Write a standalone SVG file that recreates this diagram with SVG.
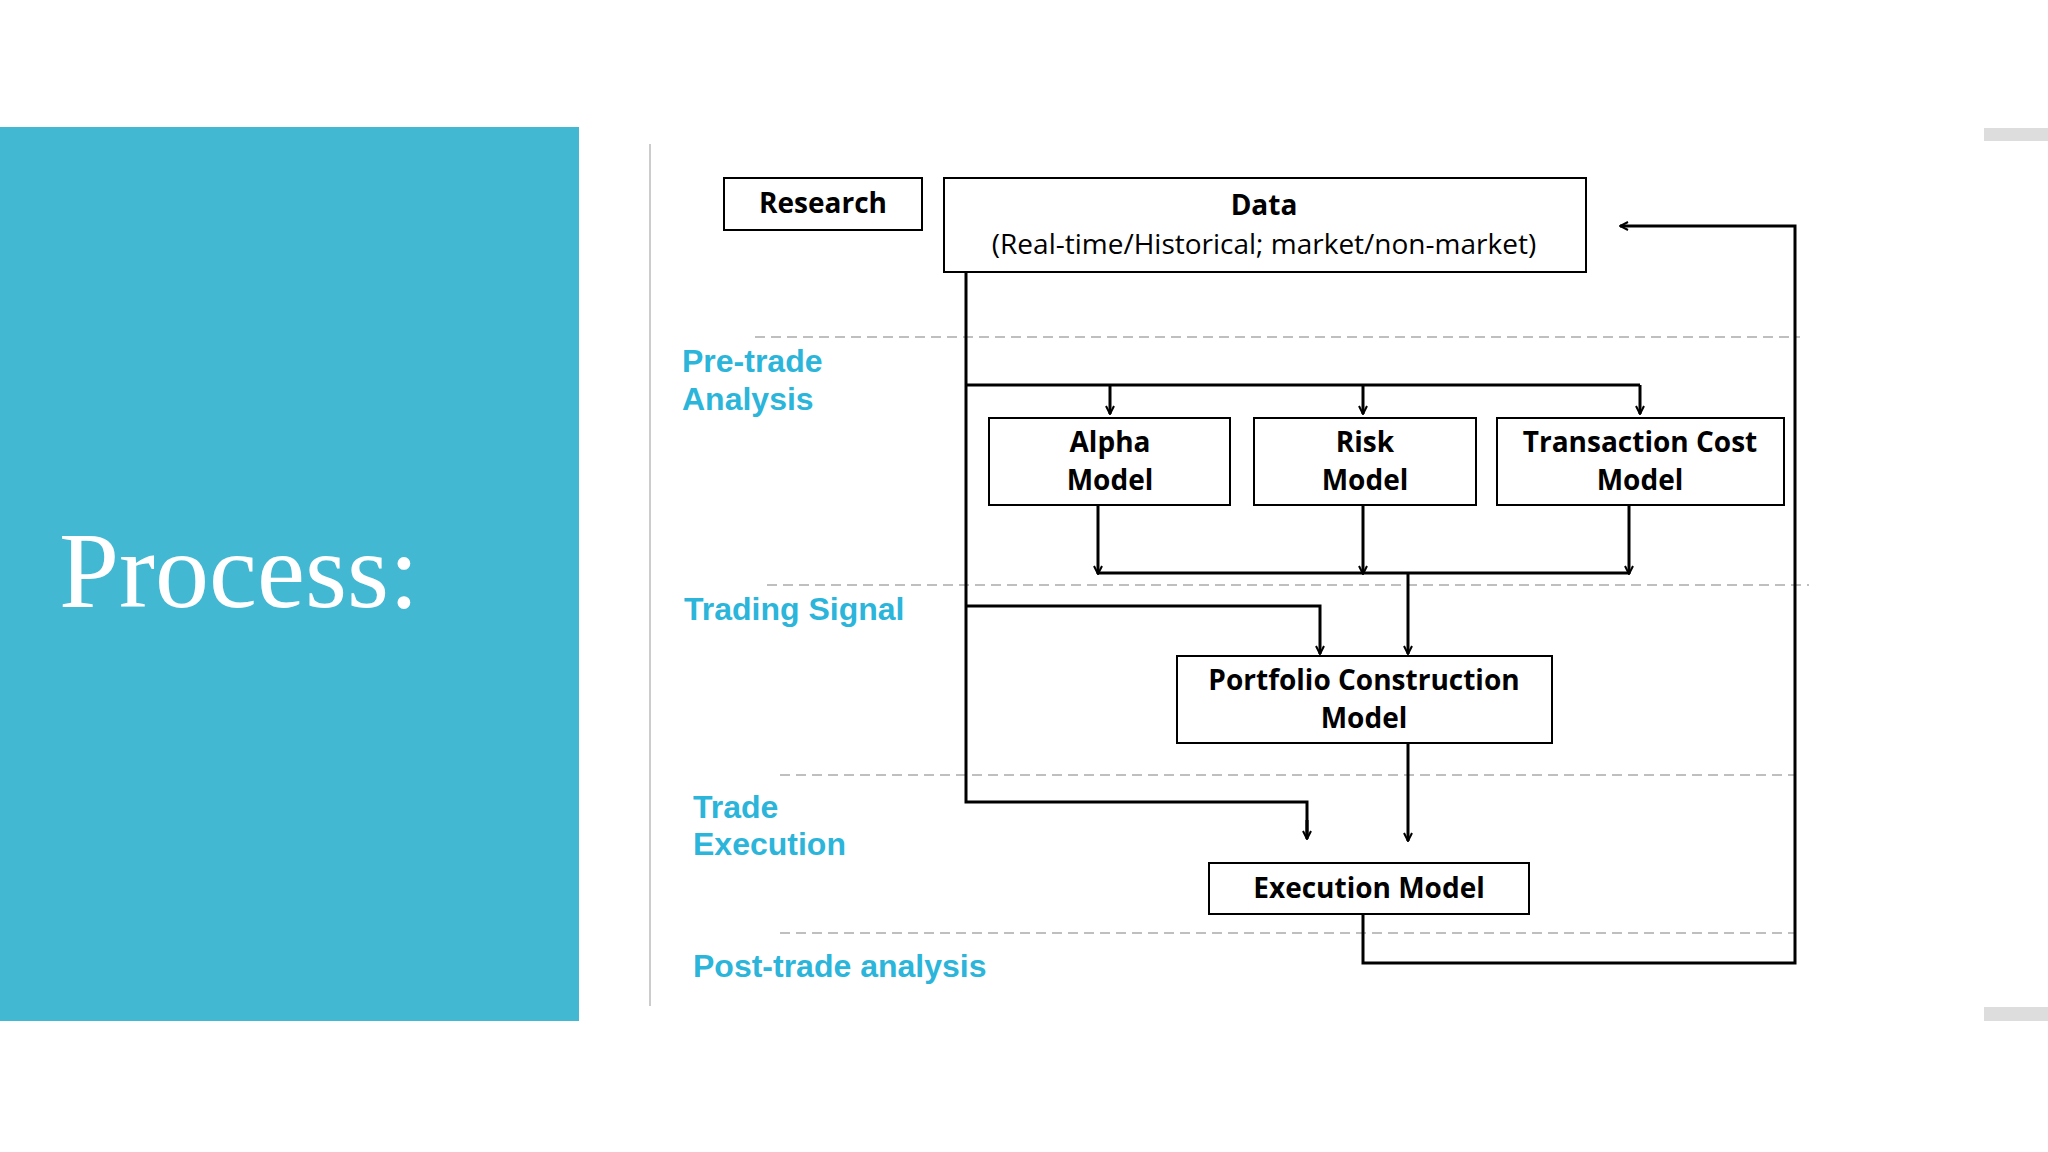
<svg xmlns="http://www.w3.org/2000/svg" width="2048" height="1152" viewBox="0 0 2048 1152">
<defs>
<marker id="ah" markerWidth="10" markerHeight="10" refX="9" refY="5" orient="auto" markerUnits="userSpaceOnUse"><path d="M1,1 L9,5 L1,9" fill="none" stroke="#000" stroke-width="2"/></marker>
<style>
.box{fill:#fff;stroke:#000;stroke-width:2}
.t{font-family:"Open Sans","Liberation Sans",sans-serif;font-weight:bold;font-size:28px;fill:#000;text-anchor:middle}
.tn{font-family:"Open Sans","Liberation Sans",sans-serif;font-size:28px;fill:#000;text-anchor:middle}
.lab{font-family:"Liberation Sans",Arial,sans-serif;font-weight:bold;font-size:32px;fill:#2BB5DA}
.dash{stroke:#aaa;stroke-width:1.5;stroke-dasharray:10,6;fill:none}
.c{stroke:#000;stroke-width:3;fill:none}
.ca{stroke:#000;stroke-width:3;fill:none;marker-end:url(#ah)}
</style>
</defs>
<rect width="2048" height="1152" fill="#fff"/>
<rect x="0" y="127" width="579" height="894" fill="#42B8D3"/>
<text x="59" y="607" font-family="Liberation Serif,serif" font-size="108" fill="#fff">Process:</text>
<line x1="650" y1="144" x2="650" y2="1006" stroke="#ccc" stroke-width="2"/>
<rect x="1984" y="128" width="64" height="13" fill="#ddd"/>
<rect x="1984" y="1007" width="64" height="14" fill="#ddd"/>
<g id="dashes">
<line class="dash" x1="755" y1="337" x2="1800" y2="337"/>
<line class="dash" x1="767" y1="585" x2="1809" y2="585"/>
<line class="dash" x1="780" y1="775" x2="1796" y2="775"/>
<line class="dash" x1="780" y1="933" x2="1796" y2="933"/>
</g>
<g id="labels">
<text class="lab" x="682" y="372">Pre-trade</text>
<text class="lab" x="682" y="410">Analysis</text>
<text class="lab" x="684" y="620">Trading Signal</text>
<text class="lab" x="693" y="818">Trade</text>
<text class="lab" x="693" y="855">Execution</text>
<text class="lab" x="693" y="977">Post-trade analysis</text>
</g>
<g id="connectors">
<polyline class="c" points="966,272 966,802 1307,802 1307,837"/>
<line class="ca" x1="1307" y1="820" x2="1307" y2="839"/>
<polyline class="c" points="966,385 1640,385"/>
<line class="ca" x1="1110" y1="385" x2="1110" y2="414"/>
<line class="ca" x1="1363" y1="385" x2="1363" y2="414"/>
<line class="ca" x1="1640" y1="385" x2="1640" y2="414"/>
<line class="ca" x1="1098" y1="505" x2="1098" y2="574"/>
<line class="ca" x1="1363" y1="505" x2="1363" y2="574"/>
<line class="ca" x1="1629" y1="505" x2="1629" y2="574"/>
<line class="c" x1="1098" y1="573" x2="1629" y2="573"/>
<line class="ca" x1="1408" y1="573" x2="1408" y2="654"/>
<polyline class="ca" points="966,606 1320,606 1320,654"/>
<line class="ca" x1="1408" y1="743" x2="1408" y2="841"/>
<polyline class="ca" points="1363,914 1363,963 1795,963 1795,226 1620,226"/>
</g>
<g id="research"><rect class="box" x="724" y="178" width="198" height="52"/><text class="t" x="823" y="213" font-size="27">Research</text></g>
<g id="data"><rect class="box" x="944" y="178" width="642" height="94"/><text class="t" x="1264" y="215">Data</text><text class="tn" x="1264" y="254">(Real-time/Historical; market/non-market)</text></g>
<g id="alpha"><rect class="box" x="989" y="418" width="241" height="87"/><text class="t" x="1110" y="452">Alpha</text><text class="t" x="1110" y="490">Model</text></g>
<g id="risk"><rect class="box" x="1254" y="418" width="222" height="87"/><text class="t" x="1365" y="452">Risk</text><text class="t" x="1365" y="490">Model</text></g>
<g id="tcm"><rect class="box" x="1497" y="418" width="287" height="87"/><text class="t" x="1640" y="452">Transaction Cost</text><text class="t" x="1640" y="490">Model</text></g>
<g id="portfolio"><rect class="box" x="1177" y="656" width="375" height="87"/><text class="t" x="1364" y="690">Portfolio Construction</text><text class="t" x="1364" y="728">Model</text></g>
<g id="execution"><rect class="box" x="1209" y="863" width="320" height="51"/><text class="t" x="1369" y="898">Execution Model</text></g>
</svg>
